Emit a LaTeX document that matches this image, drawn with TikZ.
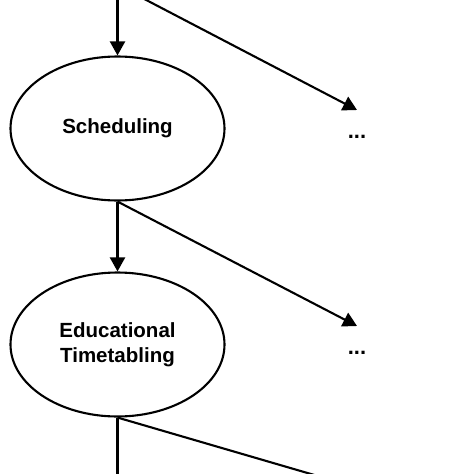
\documentclass[tikz,border=0pt]{standalone}
\usepackage{fontspec}
\setmainfont{Liberation Sans}
\usetikzlibrary{shapes.geometric,arrows.meta}
\begin{document}
\begin{tikzpicture}[x=1pt,y=-1pt,
  ell/.style={draw,line width=2.1pt,ellipse,minimum width=214pt,minimum height=144pt,inner sep=0pt,align=center,font=\fontsize{20.5}{25}\selectfont\bfseries},
  dots/.style={font=\fontsize{22}{24}\selectfont\bfseries,inner sep=0pt},
  conn/.style={line width=2.1pt,-{Triangle[length=14pt,width=15pt]}},
  line/.style={line width=2.1pt}]
\useasboundingbox (0,0) rectangle (474,474);
\coordinate (top) at (117.5,-15);
\node[ell] (e1) at (117.5,128.5) {Scheduling};
\node[ell] (e2) at (117.5,344.5) {Educational\\Timetabling};
\coordinate (t1) at (357,110);
\coordinate (t2) at (357,326);
\node[dots,anchor=base] (d1) at (357,138) {...};
\node[dots,anchor=base] (d2) at (357,354) {...};
\coordinate (b1) at (117.5,500);
\coordinate (b2) at (400,500);
\draw[conn] (top) -- (e1.north);
\draw[conn] (top) -- (t1);
\draw[conn] (e1.south) -- (e2.north);
\draw[conn] (e1.south) -- (t2);
\draw[line] (e2.south) -- (b1);
\draw[line] (e2.south) -- (b2);
\end{tikzpicture}
\end{document}
